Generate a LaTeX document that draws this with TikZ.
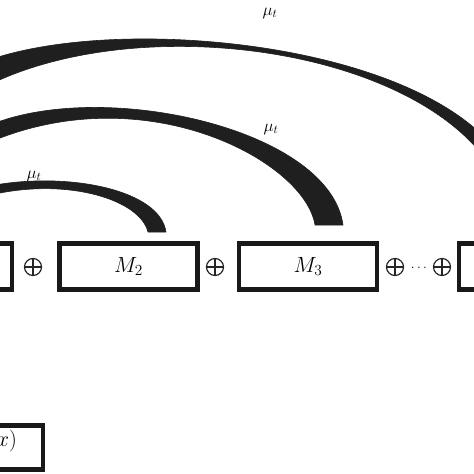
\RequirePackage{fix-cm}
\documentclass[tikz,border=0pt]{standalone}
\begin{document}
\begin{tikzpicture}[x=1pt,y=-1pt,
  mbox/.style={draw=black!90,line width=4.8pt,fill=white,minimum width=138pt,minimum height=46pt,inner sep=0pt,font=\fontsize{22}{24}\selectfont},
  oplusnode/.style={circle,draw=black!85,line width=1.2pt,minimum size=17pt,inner sep=0pt,
    path picture={\draw[line width=1.2pt,black!85] (path picture bounding box.north)--(path picture bounding box.south) (path picture bounding box.west)--(path picture bounding box.east);}},
  mulabel/.style={font=\fontsize{17}{19}\selectfont,inner sep=0pt},
  band/.style={fill=black!88,draw=black!88,line width=0.6pt,line join=round}]
\useasboundingbox (0,0) rectangle (474,474);
% boxes
\node[mbox] (m1) at (-57,266.5) {};
\node[mbox] (m2) at (128.5,266.5) {$M_2$};
\node[mbox] (m3) at (308,266.5) {$M_3$};
\node[mbox] (m4) at (528,266.5) {};
\node[mbox,minimum width=90pt,minimum height=44pt] (fx) at (-2,447.5) {};
\node[font=\fontsize{22}{24}\selectfont,anchor=east,inner sep=0pt] (fxt) at (17,441) {$x)$};
% oplus
\node[oplusnode] (p1) at (33,267) {};
\node[oplusnode] (p2) at (215,267) {};
\node[oplusnode] (p3) at (395,267) {};
\node[inner sep=0pt,font=\fontsize{14}{16}\selectfont] (dots) at (419,268) {$\dots$};
\node[oplusnode] (p4) at (442,267) {};
% arcs
\coordinate (a1s) at (-5,185);
\coordinate (a1e) at (166,232);
\fill[band] (a1s) .. controls (70,172) and (160,190) .. (a1e) -- (148,232) .. controls (140,200) and (70,178) .. (-5,194) -- cycle;
\coordinate (a2s) at (-5,123);
\coordinate (a2e) at (343,225);
\fill[band] (a2s) .. controls (110,80) and (330,130) .. (a2e) -- (315,225) .. controls (305,162) and (150,78) .. (-5,140) -- cycle;
\coordinate (a3s) at (-5,58);
\coordinate (a3e) at (480,133);
\fill[band] (a3s) .. controls (120,18) and (380,40) .. (a3e) -- (480,152) .. controls (390,45) and (140,15) .. (-5,82) -- cycle;
% labels
\node[mulabel] (l1) at (34,176) {$\mu_t$};
\node[mulabel] (l2) at (271,129) {$\mu_t$};
\node[mulabel] (l3) at (270,13) {$\mu_t$};
\end{tikzpicture}
\end{document}
